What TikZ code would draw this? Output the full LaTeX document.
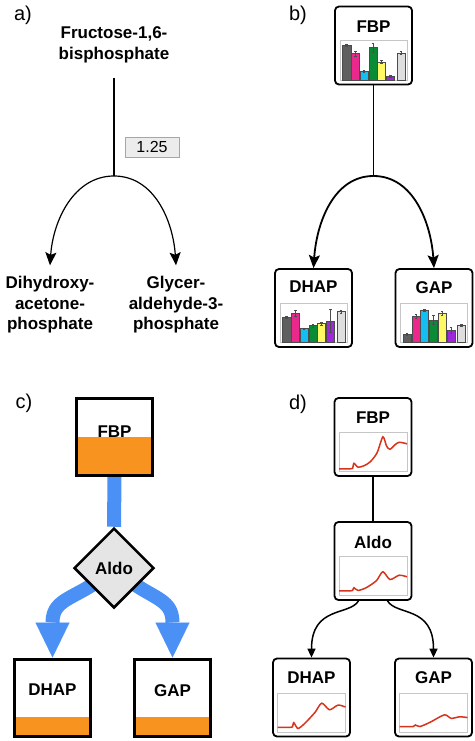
\documentclass[tikz,border=0pt]{standalone}
\usepackage{fontspec}
\setmainfont{Liberation Sans}
\usepackage{tikz}
\usetikzlibrary{shapes.geometric, arrows.meta, positioning, backgrounds}

\definecolor{flowblue}{RGB}{74,144,245}
\definecolor{tankorange}{RGB}{247,147,30}
\definecolor{tracered}{RGB}{214,52,28}
\definecolor{bar0}{RGB}{95,95,95}
\definecolor{bar1}{RGB}{236,40,140}
\definecolor{bar2}{RGB}{20,190,240}
\definecolor{bar3}{RGB}{10,140,55}
\definecolor{bar4}{RGB}{255,250,100}
\definecolor{bar5}{RGB}{160,40,220}
\definecolor{bar6}{RGB}{222,222,222}

\tikzstyle{panel}  = [font=\fontsize{20}{22}\selectfont]
\tikzstyle{chem}   = [font=\fontsize{17}{20.5}\selectfont\bfseries, align=center,
                      inner xsep=2pt, inner ysep=11pt]
\tikzstyle{rate}   = [rectangle, draw=gray!70, fill=gray!15, minimum width=54pt,
                      minimum height=20pt, inner sep=0pt, font=\fontsize{16}{18}\selectfont]
\tikzstyle{ibox}   = [rectangle, rounded corners=4pt, draw=black, line width=1.8pt,
                      minimum width=77pt, minimum height=78pt, inner sep=0pt]
\tikzstyle{boxtitle} = [font=\fontsize{17}{20}\selectfont\bfseries, inner sep=2pt]
\tikzstyle{enzyme} = [diamond, draw=black, line width=2.5pt, fill=gray!20,
                      minimum width=80pt, minimum height=80pt, inner sep=0pt,
                      font=\fontsize{17}{20}\selectfont\bfseries]
\tikzset{tank/.style={rectangle, draw=black, line width=3pt, minimum width=76pt,
                      minimum height=77pt, inner sep=0pt,
                      path picture={\fill[tankorange] (path picture bounding box.south west)
                        rectangle ([yshift=#1]path picture bounding box.south east);}}}
\tikzstyle{thinline}  = [line width=1.2pt]
\tikzstyle{thinarrow} = [thinline, -{Stealth[length=13pt,width=11pt,inset=2.5pt]}]
\tikzstyle{midline}   = [line width=1.8pt]
\tikzstyle{midarrow}  = [midline, -{Stealth[length=13pt,width=11pt,inset=2.5pt]}]
\tikzstyle{conn}      = [line width=1.5pt]
\tikzstyle{connarrow} = [conn, -{Triangle[length=9pt,width=8pt]}]
\tikzstyle{flow}      = [draw=flowblue, line width=14pt]
\tikzstyle{flowarrow} = [flow, -{Triangle[length=35pt,width=34pt,line width=0.01pt]}]
\tikzstyle{chartframe} = [draw=gray!45, line width=0.7pt, fill=white]
\tikzstyle{bar}    = [draw=black!70, line width=0.4pt]
\tikzstyle{errbar} = [draw=black!70, line width=0.4pt, {Bar[width=2.5pt]}-{Bar[width=2.5pt]}]
\tikzstyle{curve}  = [draw=tracered, line width=1.5pt]

% bar chart inside a box: #1 box node, #2 list of height/error
\newcommand{\barchart}[2]{%
  \begin{scope}[shift={(#1.center)}, shift={(-33.5,34.5)}, x=67pt, y=39.5pt]
    \draw[chartframe] (0,0) rectangle (1,1);
    \foreach \h/\e [count=\i from 0] in {#2} {
      \pgfmathsetmacro{\xl}{0.04+0.13*\i+0.03*(\i>5)}
      \draw[bar, fill=bar\i] (\xl,0) rectangle ++(0.12,\h);
      \draw[errbar] (\xl+0.06,\h-\e) -- (\xl+0.06,\h+\e);
    }
  \end{scope}}
% time course inside a box: #1 box node, #2 normalised points
\newcommand{\tracechart}[2]{%
  \begin{scope}[shift={(#1.center)}, shift={(-34,34.5)}, x=68pt, y=39pt]
    \draw[chartframe] (0,0) rectangle (1,1);
    \draw[curve] plot[smooth, tension=0.45] coordinates {#2};
  \end{scope}}

\begin{document}
\begin{tikzpicture}[x=1pt, y=-1pt]
  \useasboundingbox (0,0) rectangle (474,741);

  % a) plain reaction
  \node[panel] (tagA) at (23,15) {a)};
  \node[chem, inner ysep=15pt] (fru) at (114,45) {Fructose-1,6-\\bisphosphate};
  \coordinate (splitA) at (114,176);
  \node[rate] (rateA) at (152,147) {1.25};
  \node[chem] (dha) at (50,305) {Dihydroxy-\\acetone-\\phosphate};
  \node[chem] (gla) at (176,305) {Glycer-\\aldehyde-3-\\phosphate};

  \draw[thinline] (fru.south) -- (splitA);
  \draw[thinarrow] (splitA) .. controls +(-40,0) and +(3,-45) .. (dha.north);
  \draw[thinarrow] (splitA) .. controls +(40,0) and +(-3,-45) .. (gla.north);

  % b) bar charts
  \node[panel] (tagB) at (298,15) {b)};
  \node[ibox] (fbpB) at (373.5,45.5) {};
  \node[boxtitle, below=13pt of fbpB.north] (fbpBt) {FBP};
  \coordinate (splitB) at (373.5,176);
  \node[ibox] (dhapB) at (313.5,308) {};
  \node[boxtitle, below=11pt of dhapB.north] (dhapBt) {DHAP};
  \node[ibox] (gapB) at (434,308) {};
  \node[boxtitle, below=11pt of gapB.north] (gapBt) {GAP};

  \barchart{fbpB}{0.87/0.03, 0.67/0.06, 0.23/0.03, 0.82/0.12, 0.46/0.05, 0.10/0.03, 0.69/0.04}
  \barchart{dhapB}{0.65/0.03, 0.75/0.08, 0.35/0.02, 0.43/0.04, 0.48/0.04, 0.55/0.30, 0.78/0.04}
  \barchart{gapB}{0.20/0.03, 0.67/0.06, 0.82/0.03, 0.57/0.12, 0.75/0.06, 0.30/0.08, 0.45/0.03}

  \draw[midline] (fbpB.south) -- (splitB);
  \draw[midarrow] (splitB) .. controls +(-40,0) and +(3,-45) .. (dhapB.north);
  \draw[midarrow] (splitB) .. controls +(40,0) and +(-3,-45) .. (gapB.north);

  % c) pools and flux
  \node[panel] (tagC) at (24,403) {c)};
  \node[tank=38.5pt] (fbpC) at (114.5,437) {};
  \node[boxtitle, below=27pt of fbpC.north] (fbpCt) {FBP};
  \node[enzyme] (aldoC) at (114,568) {Aldo};
  \node[tank=19pt] (dhapC) at (52.5,697.5) {};
  \node[boxtitle, below=24.5pt of dhapC.north] (dhapCt) {DHAP};
  \node[tank=19pt] (gapC) at (172.5,697.5) {};
  \node[boxtitle, below=24.5pt of gapC.north] (gapCt) {GAP};

  \begin{scope}[on background layer]
    \draw[flow] (fbpC.south) -- (aldoC.north);
    \draw[flowarrow] (aldoC.center) .. controls +(-34,32) and +(0,-62) .. (dhapC.north);
    \draw[flowarrow] (aldoC.center) .. controls +(34,32) and +(0,-62) .. (gapC.north);
  \end{scope}

  % d) time courses
  \node[panel] (tagD) at (298,404) {d)};
  \node[ibox] (fbpD) at (373,437) {};
  \node[boxtitle, below=13pt of fbpD.north] (fbpDt) {FBP};
  \node[ibox] (aldoD) at (373,561) {};
  \node[boxtitle, below=13pt of aldoD.north] (aldoDt) {Aldo};
  \node[ibox] (dhapD) at (311.5,697.5) {};
  \node[boxtitle, below=12pt of dhapD.north] (dhapDt) {DHAP};
  \node[ibox] (gapD) at (433.5,697.5) {};
  \node[boxtitle, below=12pt of gapD.north] (gapDt) {GAP};

  \tracechart{fbpD}{(0,0.07) (0.17,0.07) (0.2,0.08) (0.22,0.21) (0.28,0.11)
    (0.37,0.15) (0.46,0.25) (0.56,0.48) (0.645,0.89) (0.7,0.65) (0.75,0.57)
    (0.82,0.68) (0.885,0.75) (1,0.71)}
  \tracechart{aldoD}{(0,0.12) (0.17,0.12) (0.2,0.13) (0.22,0.2) (0.28,0.13)
    (0.4,0.2) (0.55,0.38) (0.645,0.61) (0.75,0.41) (0.885,0.52) (1,0.48)}
  \tracechart{dhapD}{(0,0.12) (0.19,0.12) (0.22,0.13) (0.24,0.24) (0.3,0.09)
    (0.4,0.22) (0.55,0.5) (0.65,0.74) (0.765,0.57) (0.89,0.69) (1,0.64)}
  \tracechart{gapD}{(0,0.14) (0.2,0.14) (0.235,0.18) (0.3,0.14) (0.45,0.25)
    (0.66,0.44) (0.76,0.35) (0.885,0.39) (1,0.37)}

  \draw[conn] (fbpD) -- (aldoD);
  \draw[connarrow] (aldoD.-110) .. controls +(-9,15) and +(0,-52) .. (dhapD.north);
  \draw[connarrow] (aldoD.-70) .. controls +(9,15) and +(0,-52) .. (gapD.north);
\end{tikzpicture}
\end{document}
